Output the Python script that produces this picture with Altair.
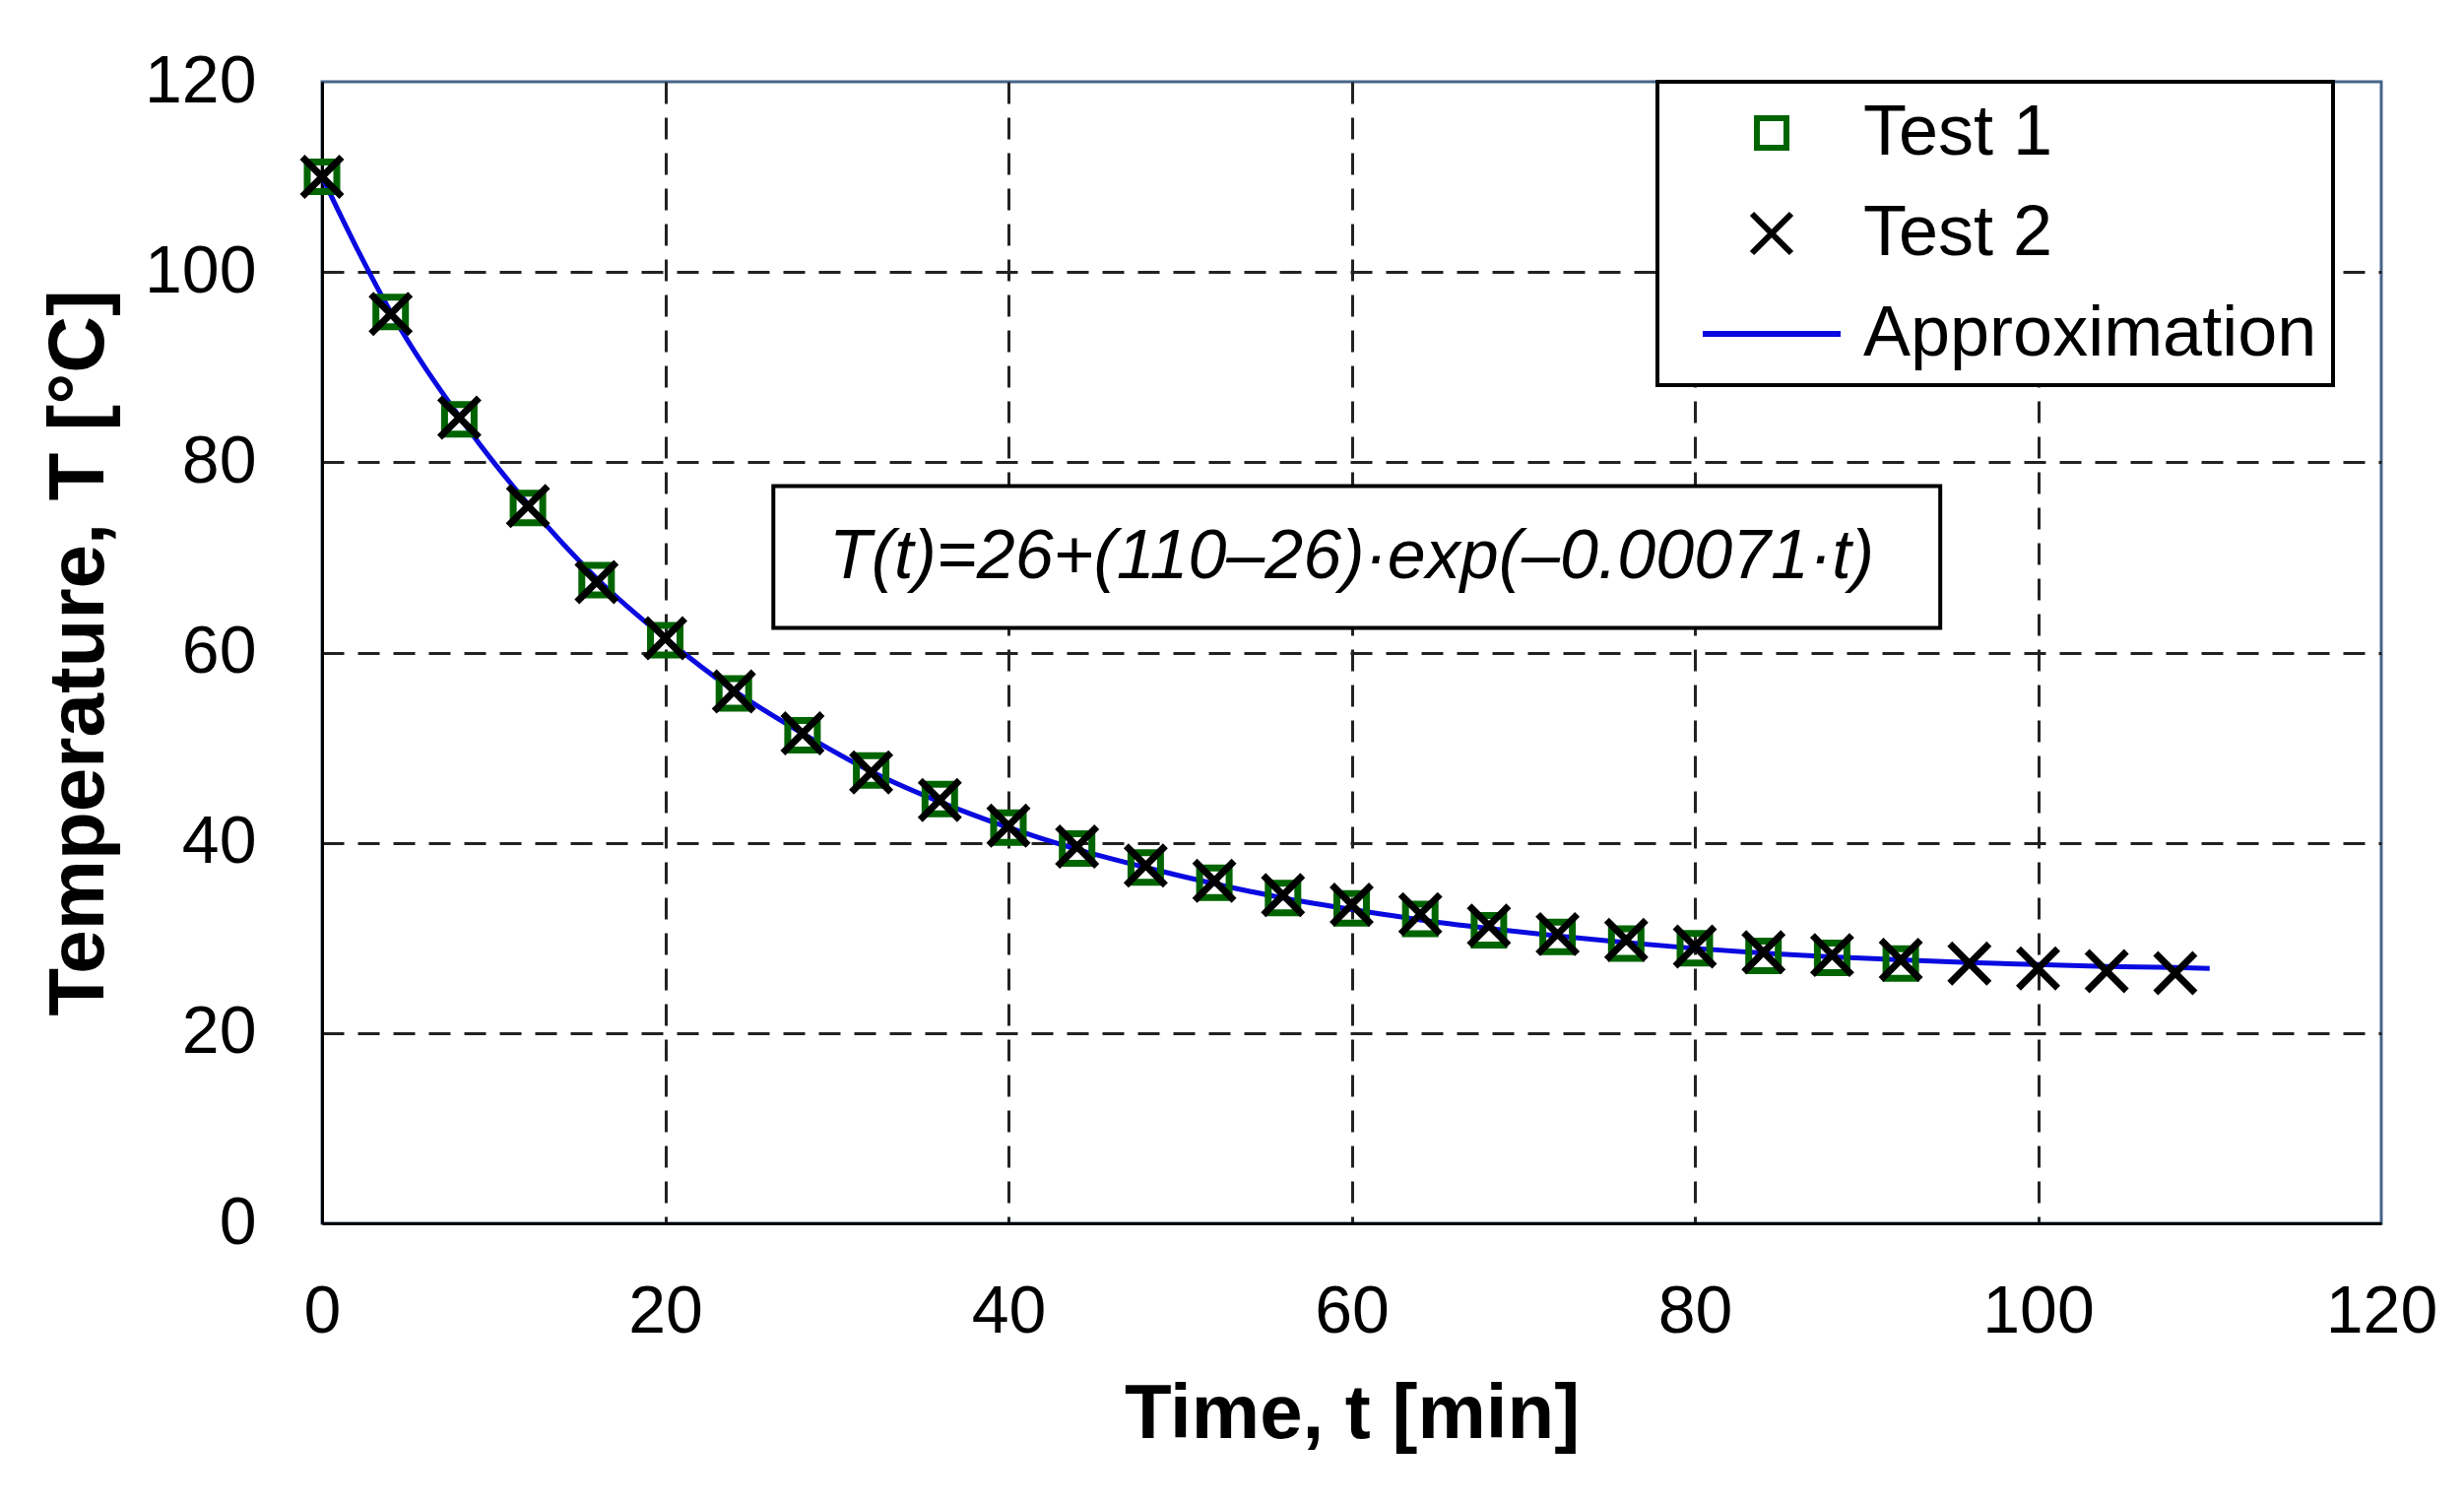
import altair as alt
import pandas as pd

# ---------------- data ----------------
t_test1 = [0, 4, 8, 12, 16, 20, 24, 28, 32, 36, 40, 44, 48, 52, 56, 60, 64, 68, 72, 76, 80, 84, 88, 92]
T_test1 = [110.0, 95.8, 84.5, 75.2, 67.6, 61.3, 55.7, 51.3, 47.6, 44.6, 41.6, 39.4, 37.4, 35.8,
           34.2, 33.1, 32.0, 30.8, 30.1, 29.4, 28.9, 28.1, 27.9, 27.3]

t_test2 = [0, 4, 8, 12, 16, 20, 24, 28, 32, 36, 40, 44, 48, 52, 56, 60, 64, 68, 72, 76, 80, 84, 88,
           92, 96, 100, 104, 108]
T_test2 = [110.0, 95.6, 84.7, 75.4, 67.4, 61.5, 55.9, 51.5, 47.4, 44.5, 41.8, 39.6, 37.6, 36.0,
           34.5, 33.5, 32.5, 31.3, 30.4, 29.8, 29.1, 28.5, 28.2, 27.7, 27.3, 26.8, 26.5, 26.3]

t_fit = [0, 2, 4, 8, 12, 16, 20, 24, 28, 32, 36, 40, 44, 48, 52, 56, 60, 64, 68, 72, 76, 80, 84,
         88, 92, 96, 100, 104, 108, 110]
T_fit = [110.0, 102.6, 95.8, 84.8, 75.6, 67.8, 61.5, 56.0, 51.5, 47.5, 44.3, 41.6, 39.3, 37.4,
         35.7, 34.2, 33.0, 31.9, 31.0, 30.2, 29.5, 28.9, 28.4, 28.0, 27.7, 27.4, 27.2, 27.0, 26.9, 26.8]

series_names = ["Test 1", "Test 2", "Approximation"]
series_colors = ["#006400", "#000000", "#0a0ae0"]
series_shapes = [
    "M-0.6,-0.6L0.6,-0.6L0.6,0.6L-0.6,0.6Z",
    "M-0.8,-0.8L0.8,0.8M-0.8,0.8L0.8,-0.8",
    "M-2.8,0L2.8,0",
]

x_ticks = [0, 20, 40, 60, 80, 100, 120]
y_ticks = [0, 20, 40, 60, 80, 100, 120]

formula_text = ["T(t)=26+(110\u201326)\u00b7exp(\u20130.00071\u00b7t)"]
formula_t = [60]
formula_T = [70]
box_t = [26.3, 94.3]
box_T = [62.6, 77.5]

x_title = "Time, t [min]"
y_title = "Temperature, T [°C]"

# ---------------- tables ----------------
df_pts = pd.DataFrame({
    "t": t_test1 + t_test2,
    "T": T_test1 + T_test2,
    "series": ["Test 1"] * len(t_test1) + ["Test 2"] * len(t_test2),
})
df_fit = pd.DataFrame({"t": t_fit, "T": T_fit, "series": ["Approximation"] * len(t_fit)})
df_box = pd.DataFrame({"t1": [box_t[0]], "t2": [box_t[1]], "T1": [box_T[0]], "T2": [box_T[1]]})
df_txt = pd.DataFrame({"t": formula_t, "T": formula_T, "label": formula_text})

FONT = "Liberation Sans"
grid_op = {"condition": {"test": "datum.value === 0 || datum.value === 120", "value": 0}, "value": 1}

x_enc = alt.X("t:Q", scale=alt.Scale(domain=[0, 120], nice=False),
              axis=alt.Axis(values=x_ticks, title=x_title, grid=True, gridDash=[22, 14],
                            gridColor="#222222", gridWidth=3, gridOpacity=grid_op,
                            domainColor="black", domainWidth=3, ticks=False, tickSize=0,
                            labelFont=FONT, labelFontSize=68, labelColor="black",
                            labelPadding=56, labelFlush=False, labelOverlap=False,
                            titleFont=FONT, titleFontSize=78, titleFontWeight="bold",
                            titleColor="black", titlePadding=31))
y_enc = alt.Y("T:Q", scale=alt.Scale(domain=[0, 120], nice=False),
              axis=alt.Axis(values=y_ticks, title=y_title, grid=True, gridDash=[22, 14],
                            gridColor="#222222", gridWidth=3, gridOpacity=grid_op,
                            domainColor="black", domainWidth=3, ticks=False, tickSize=0,
                            labelFont=FONT, labelFontSize=68, labelColor="black",
                            labelPadding=67, labelFlush=False, labelOverlap=False,
                            titleFont=FONT, titleFontSize=80, titleFontWeight="bold",
                            titleColor="black", titlePadding=25))

legend = alt.Legend(title=None, orient="none", legendX=1356, legendY=0, padding=16,
                    strokeColor="black", fillColor="white", cornerRadius=0,
                    labelFont=FONT, labelFontSize=72, labelColor="black", labelLimit=1000,
                    symbolSize=2500, symbolStrokeWidth=6, symbolOffset=64, labelOffset=57,
                    rowPadding=30, symbolOpacity=1)

color = alt.Color("series:N", scale=alt.Scale(domain=series_names, range=series_colors), legend=legend)
shape = alt.Shape("series:N", scale=alt.Scale(domain=series_names, range=series_shapes), legend=legend)

box = alt.Chart(df_box).mark_rect(fill="white", stroke="black", strokeWidth=4).encode(
    x="t1:Q", x2="t2:Q", y="T1:Q", y2="T2:Q")
txt = alt.Chart(df_txt).mark_text(font=FONT, fontSize=70, fontStyle="italic", color="black",
                                  align="center", baseline="middle").encode(
    x="t:Q", y="T:Q", text="label:N")

line = alt.Chart(df_fit).mark_line(strokeWidth=5, interpolate="monotone").encode(
    x=x_enc, y=y_enc, color=color)
pts = alt.Chart(df_pts).mark_point(filled=False, size=2500, strokeWidth=7, opacity=1).encode(
    x="t:Q", y="T:Q", color=color, shape=shape)

chart = alt.layer(line, pts, box, txt).resolve_scale(color="shared", shape="shared").properties(
    width=2091, height=1159,
    autosize=alt.AutoSizeParams(type="none"),
    padding={"left": 319, "top": 75, "right": 60, "bottom": 250},
    background="white",
).configure_view(stroke="#46648a", strokeWidth=3).configure_legend(strokeWidth=4)

chart.save("out.html", embed_options={"renderer": "svg", "actions": False})
